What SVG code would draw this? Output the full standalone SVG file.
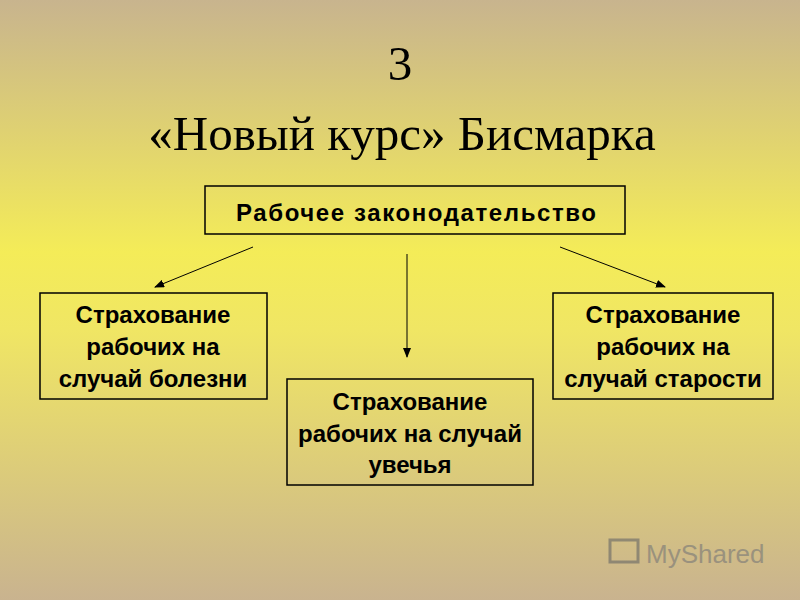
<svg xmlns="http://www.w3.org/2000/svg" width="800" height="600" viewBox="0 0 800 600">
<defs>
<linearGradient id="bg" x1="0" y1="0" x2="0" y2="1">
<stop offset="0" stop-color="#c8b48e"/>
<stop offset="0.42" stop-color="#f4ec58"/>
<stop offset="0.55" stop-color="#f0e664"/>
<stop offset="1" stop-color="#c9b38f"/>
</linearGradient>
<marker id="ah" markerWidth="10" markerHeight="8" refX="9" refY="4" orient="auto" markerUnits="userSpaceOnUse">
<path d="M0,0 L10,4 L0,8 z" fill="#000"/>
</marker>
<style>
.box{fill:none;stroke:#000;stroke-width:1.5}
.t{font-family:"Liberation Sans",Arial,sans-serif;font-weight:bold;font-size:24px;text-anchor:middle;fill:#000}
.h{font-family:"Liberation Serif","Times New Roman",serif;font-size:49px;text-anchor:middle;fill:#000}
.c{stroke:#000;stroke-width:1;fill:none;marker-end:url(#ah)}
</style>
</defs>
<rect width="800" height="600" fill="url(#bg)"/>
<text class="h" x="400" y="80" font-size="50">3</text>
<text class="h" x="402" y="150">«Новый курс» Бисмарка</text>
<g id="connectors">
<line class="c" x1="253" y1="247" x2="155" y2="287"/>
<line class="c" x1="407" y1="254" x2="407" y2="357"/>
<line class="c" x1="560" y1="247" x2="665" y2="287"/>
</g>
<g id="top">
<rect class="box" x="205" y="186" width="420" height="48"/>
<text class="t" x="416" y="221" font-size="25" textLength="360" lengthAdjust="spacing">Рабочее законодательство</text>
</g>
<g id="left">
<rect class="box" x="40" y="293" width="227" height="106"/>
<text class="t" x="153" y="323">Страхование</text>
<text class="t" x="153" y="355">рабочих на</text>
<text class="t" x="153" y="387">случай болезни</text>
</g>
<g id="middle">
<rect class="box" x="287" y="379" width="246" height="106"/>
<text class="t" x="410" y="410">Страхование</text>
<text class="t" x="410" y="442">рабочих на случай</text>
<text class="t" x="410" y="473">увечья</text>
</g>
<g id="right">
<rect class="box" x="553" y="293" width="220" height="106"/>
<text class="t" x="663" y="323">Страхование</text>
<text class="t" x="663" y="355">рабочих на</text>
<text class="t" x="663" y="387">случай старости</text>
</g>
<g id="logo" opacity="0.6">
<rect x="610" y="540" width="28" height="22" fill="none" stroke="#666" stroke-width="3"/>
<text x="646" y="563" font-family="'Liberation Sans',Arial,sans-serif" font-size="26" fill="#777">MyShared</text>
</g>
</svg>
